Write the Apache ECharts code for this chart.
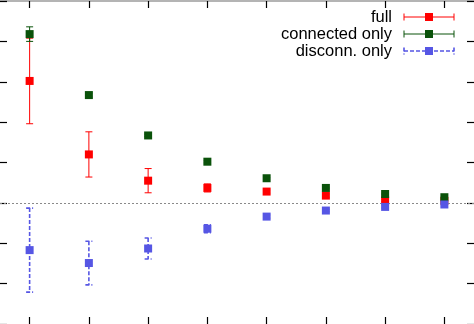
<!DOCTYPE html>
<html>
<head>
<meta charset="utf-8">
<script src="https://cdn.jsdelivr.net/npm/echarts@6/dist/echarts.min.js"></script>
<style>
html,body{margin:0;padding:0;background:#fff;}
#c{width:474px;height:324px;}
</style>
</head>
<body>
<div id="c"></div>
<script>
// ---- data (arbitrary units) ----
const xs = [1, 2, 3, 4, 5, 6, 7, 8];
const fullVal = [3.02, 1.20, 0.55, 0.37, 0.28, 0.18, 0.06, 0.05];
const fullErr = [1.06, 0.56, 0.30, 0.10, 0.04, 0.04, 0.03, 0.03];
const connVal = [4.18, 2.67, 1.67, 1.02, 0.61, 0.37, 0.22, 0.14];
const connErr = [0.18, 0.05, 0.03, 0.03, 0.02, 0.02, 0.02, 0.02];
const discVal = [-1.17, -1.49, -1.13, -0.64, -0.34, -0.19, -0.10, -0.04];
const discErr = [1.04, 0.54, 0.26, 0.10, 0.04, 0.03, 0.03, 0.03];
const seriesNames = ['full', 'connected only', 'disconn. only'];
const yTicks = [-3, -2, -1, 0, 1, 2, 3, 4, 5];

const colors = ['#ff0000', '#0a520a', '#5656e4'];
const dashes = [null, null, [4, 2]];
const widths = [1, 1, 1.6];

const chart = echarts.init(document.getElementById('c'), null, {renderer: 'canvas'});

function errData(vals, errs) {
  return xs.map((x, i) => [x, vals[i] - errs[i], vals[i] + errs[i]]);
}
function ptData(vals) {
  return xs.map((x, i) => [x, vals[i]]);
}
function makeErrSeries(vals, errs, k, z) {
  return {
    type: 'custom',
    name: seriesNames[k] + ' err',
    z: z,
    silent: true,
    data: errData(vals, errs),
    renderItem: function (params, api) {
      const x = api.value(0);
      const lo = api.coord([x, api.value(1)]);
      const hi = api.coord([x, api.value(2)]);
      const hw = 3.5;
      const style = {stroke: colors[k], lineWidth: widths[k], fill: null};
      if (dashes[k]) style.lineDash = dashes[k];
      return {
        type: 'group',
        children: [
          {type: 'line', shape: {x1: hi[0], y1: hi[1], x2: lo[0], y2: lo[1]}, style: style},
          {type: 'line', shape: {x1: hi[0] - hw, y1: hi[1], x2: hi[0] + hw, y2: hi[1]}, style: style},
          {type: 'line', shape: {x1: lo[0] - hw, y1: lo[1], x2: lo[0] + hw, y2: lo[1]}, style: style}
        ]
      };
    }
  };
}
function makePtSeries(vals, k, z) {
  return {
    type: 'scatter',
    name: seriesNames[k],
    z: z,
    symbol: 'rect',
    symbolSize: 8,
    itemStyle: {color: colors[k], opacity: 1},
    data: ptData(vals)
  };
}

const series = [
  makeErrSeries(fullVal, fullErr, 0, 2),
  Object.assign(makePtSeries(fullVal, 0, 3), {
    markLine: {
      silent: true,
      symbol: ['none', 'none'],
      label: {show: false},
      lineStyle: {type: [2, 2], color: '#8a8a8a', width: 1},
      data: [{yAxis: 0}],
      animation: false
    }
  }),
  makeErrSeries(connVal, connErr, 1, 4),
  makePtSeries(connVal, 1, 5),
  makeErrSeries(discVal, discErr, 2, 6),
  makePtSeries(discVal, 2, 7)
];

const tickStyle = {color: '#000', width: 1.2};
function xAx(pos, showLine) {
  return {
    type: 'value', position: pos, min: 0.5, max: 8.5,
    axisLine: {show: showLine, onZero: false, lineStyle: {color: '#b4b4b4', width: 2}},
    axisTick: {show: true, inside: true, length: 7, customValues: xs, lineStyle: tickStyle},
    axisLabel: {show: false},
    splitLine: {show: false}
  };
}
function yAx(pos) {
  return {
    type: 'value', position: pos, min: -3, max: 5, interval: 1,
    axisLine: {show: false, onZero: false},
    axisTick: {show: true, inside: true, length: 7, customValues: yTicks, lineStyle: tickStyle},
    axisLabel: {show: false},
    splitLine: {show: false}
  };
}

// legend drawn as graphic (text + errorbar sample)
const legendGraphics = [];
const rowY = [17, 34, 51];
const sx1 = 404, sx2 = 454, sxm = 429;
seriesNames.forEach((name, k) => {
  const y = rowY[k];
  legendGraphics.push({
    type: 'text', x: 392, y: y,
    style: {text: name, font: '16.5px "Liberation Sans", Arial, sans-serif', fill: '#000',
            textAlign: 'right', textVerticalAlign: 'middle'}
  });
  const st = {stroke: colors[k], lineWidth: widths[k], fill: null};
  if (dashes[k]) st.lineDash = dashes[k];
  legendGraphics.push({type: 'line', shape: {x1: sx1, y1: y, x2: sx2, y2: y}, style: st});
  legendGraphics.push({type: 'line', shape: {x1: sx1, y1: y - 3.5, x2: sx1, y2: y + 3.5}, style: st});
  legendGraphics.push({type: 'line', shape: {x1: sx2, y1: y - 3.5, x2: sx2, y2: y + 3.5}, style: st});
  legendGraphics.push({type: 'rect', shape: {x: sxm - 4, y: y - 4, width: 8, height: 8}, style: {fill: colors[k]}});
});

chart.setOption({
  animation: false,
  backgroundColor: '#fff',
  grid: {left: 0, right: 0, top: 1, bottom: 0, containLabel: false},
  xAxis: [xAx('bottom', false), xAx('top', true)],
  yAxis: [yAx('left'), yAx('right')],
  graphic: legendGraphics,
  series: series
});
</script>
</body>
</html>
